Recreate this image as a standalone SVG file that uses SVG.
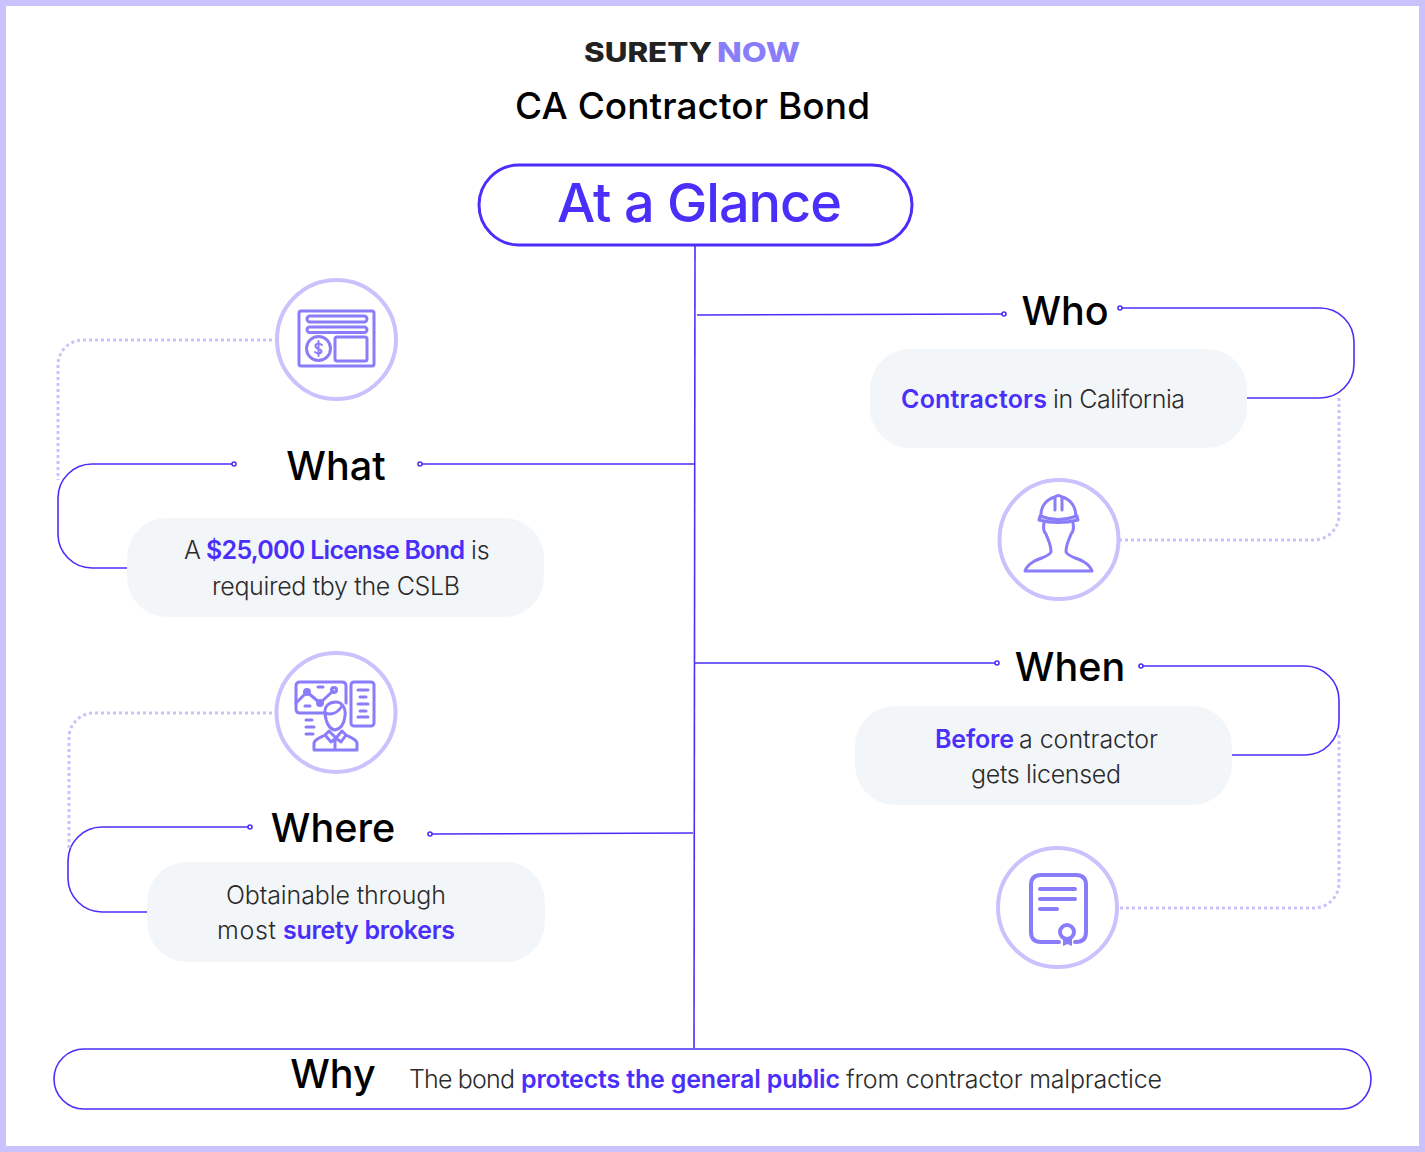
<svg xmlns="http://www.w3.org/2000/svg" width="1425" height="1152" viewBox="0 0 1425 1152">
<defs>
<style>
text{font-family:"Inter","Liberation Sans",sans-serif;fill:#000}
.h{font-size:39.500px;font-weight:500;text-anchor:middle}
.b{font-size:25px;font-weight:300;fill:#2b2b2b}
.a{font-size:25px;font-weight:600;fill:#4a2ffb}
.l{fill:none;stroke:#4a2ffb;stroke-width:1.6}
.d{fill:none;stroke:#c9c2fb;stroke-width:3;stroke-dasharray:3 3}
.dot{fill:#fff;stroke:#4a2ffb;stroke-width:1.6}
.c{fill:#fff;stroke:#c9c2fd;stroke-width:4}
.i{fill:none;stroke:#8a7dfa;stroke-width:3;stroke-linecap:round;stroke-linejoin:round}
.p{fill:#f3f6f9}
</style>
</defs>
<rect width="1425" height="1152" fill="#fff"/>
<rect x="3" y="3" width="1419" height="1146" fill="none" stroke="#c9c2fd" stroke-width="6"/>
<g id="logo">
<text x="584" y="62" textLength="128" lengthAdjust="spacingAndGlyphs" style="font-size:27px;font-weight:800;fill:#222">SURETY</text>
<text x="717" y="62" textLength="83" lengthAdjust="spacingAndGlyphs" style="font-size:27px;font-weight:800;fill:#8a7dfa">NOW</text>
</g>
<text id="title" x="515" y="119" textLength="355" style="font-size:37px;font-weight:500">CA Contractor Bond</text>
<g id="connectors">
<path class="l" d="M695 246L694 1048"/>
<path class="l" d="M697 315L1004 314M695 464H420M695 663H997M693 833L430 834"/>
<path class="l" d="M1120 308H1320A34 34 0 0 1 1354 342V364A34 34 0 0 1 1320 398H1247"/>
<path class="l" d="M1141 666H1305A34 34 0 0 1 1339 700V721A34 34 0 0 1 1305 755H1232"/>
<path class="l" d="M234 464H92A34 34 0 0 0 58 498V534A34 34 0 0 0 92 568H128"/>
<path class="l" d="M250 827H102A34 34 0 0 0 68 861V878A34 34 0 0 0 102 912H148"/>
<path class="d" d="M272 340H82A25 25 0 0 0 58 365V480"/>
<path class="d" d="M272 713H94A25 25 0 0 0 69 738V850"/>
<path class="d" d="M1339 398V515A25 25 0 0 1 1314 540H1120"/>
<path class="d" d="M1339 735V883A25 25 0 0 1 1314 908H1118"/>
<circle class="dot" cx="1004" cy="314" r="2"/><circle class="dot" cx="1120" cy="308" r="2"/>
<circle class="dot" cx="997" cy="663" r="2"/><circle class="dot" cx="1141" cy="666" r="2"/>
<circle class="dot" cx="234" cy="464" r="2"/><circle class="dot" cx="420" cy="464" r="2"/>
<circle class="dot" cx="250" cy="827" r="2"/><circle class="dot" cx="430" cy="834" r="2"/>
</g>
<g id="header">
<rect x="479" y="165" width="433" height="80" rx="40" fill="#fff" stroke="#4a2ffb" stroke-width="3"/>
<text x="557" y="222" textLength="285" style="font-size:54px;font-weight:500;fill:#4a2ffb">At a Glance</text>
</g>
<g id="who">
<text x="1065" y="325" class="h">Who</text>
<rect class="p" x="870" y="349" width="377" height="99" rx="40"/>
<text x="901" y="408" class="a" textLength="146">Contractors</text>
<text x="1053" y="408" class="b" textLength="132">in California</text>
</g>
<g id="who-icon">
<circle class="c" cx="1059" cy="539.500" r="59.500"/>
<path class="i" d="M1041 517C1040 506 1047 499 1055 497Q1058 494 1062 497C1070 499 1076 506 1076 517"/>
<path class="i" d="M1055 510V497M1062 510V497"/>
<path class="i" d="M1040 516Q1058 523 1077 516L1078 520Q1058 525 1039 520Z"/>
<path class="i" d="M1044 523C1043 528 1044 532 1046 534C1048 540 1051 544 1051 552C1049 557 1039 558 1033 562C1028 565 1026 568 1025 571H1092C1091 568 1089 565 1084 562C1078 558 1068 557 1066 552C1066 544 1069 540 1071 534C1073 532 1074 528 1073 523"/>
</g>
<g id="when">
<text x="1070" y="681" class="h">When</text>
<rect class="p" x="855" y="706" width="377" height="99" rx="40"/>
<text x="935" y="748" class="a" textLength="79">Before</text>
<text x="1019" y="748" class="b" textLength="139">a contractor</text>
<text x="971" y="783" class="b" textLength="150">gets licensed</text>
</g>
<g id="when-icon">
<circle class="c" cx="1057.500" cy="907.500" r="59.500"/>
<path class="i" style="stroke-width:4" d="M1059 942H1041Q1031 942 1031 932V885Q1031 875 1041 875H1076Q1086 875 1086 885V932Q1086 942 1076 942H1075"/>
<path class="i" style="stroke-width:4" d="M1040 889H1075M1040 899H1075M1040 909H1057"/>
<circle class="i" style="stroke-width:4" cx="1067" cy="932" r="7"/>
<path d="M1063 939H1072V946L1067.500 944L1063 946Z" fill="#8a7dfa"/>
</g>
<g id="what">
<text x="336" y="480" class="h">What</text>
<rect class="p" x="127" y="518" width="417" height="99" rx="40"/>
<text x="184" y="559" class="b">A</text>
<text x="206" y="559" class="a" textLength="259">$25,000 License Bond</text>
<text x="471" y="559" class="b">is</text>
<text x="212" y="595" class="b" textLength="248">required tby the CSLB</text>
</g>
<g id="what-icon">
<circle class="c" cx="336.500" cy="339.500" r="59.500"/>
<rect class="i" x="299" y="311" width="75" height="55" rx="2"/>
<rect class="i" x="307" y="316" width="60" height="6" rx="3"/>
<rect class="i" x="307" y="327" width="60" height="5.500" rx="2.700"/>
<circle class="i" cx="318.500" cy="348.500" r="12"/>
<rect class="i" x="335" y="337" width="32" height="24" rx="2"/>
<path class="i" style="stroke-width:2" d="M322 345Q318 342 315.500 345Q315 348 318.500 349Q322 350 321.500 352Q319 355 315 352M318.500 341V356"/>
</g>
<g id="where">
<text x="333" y="842" class="h">Where</text>
<rect class="p" x="147" y="862" width="398" height="100" rx="40"/>
<text x="226" y="904" class="b" textLength="220">Obtainable through</text>
<text x="217" y="939" class="b" textLength="59">most</text>
<text x="283" y="939" class="a" textLength="172">surety brokers</text>
</g>
<g id="where-icon">
<circle class="c" cx="336" cy="712.500" r="59.500"/>
<path class="i" d="M324 713H300Q296 713 296 709V686Q296 682 300 682H342Q346 682 346 686V703"/>
<rect class="i" x="351" y="682" width="23" height="44" rx="3"/>
<path class="i" d="M358 690H368M360 697H366M358 704H368M360 711H366M358 717H368M318 687H323M305 706H310M306 720H312M306 727H314M306 734H313"/>
<path class="i" d="M296 703L307 692L320 703L333 691"/>
<circle class="i" cx="307" cy="692" r="2.500"/><circle class="i" cx="320" cy="703" r="2.500"/><circle class="i" cx="334" cy="690" r="2.500"/>
<path class="i" d="M325 714C324 706 329 702 336 702C342 702 346 708 345 716C344 725 340 729 335 730C329 729 326 722 325 714Z"/>
<path class="i" d="M325 713C333 716 339 711 342 706"/>
<path class="i" d="M314 750V743C315 739 320 738 325 735L329 731L336 738L342 731L346 735C351 738 356 739 357 743V750ZM335 738V750M329 731L325 735L331 742L336 738L341 742L346 735"/>
</g>
<g id="why">
<rect x="54" y="1049" width="1317" height="60" rx="30" fill="#fff" stroke="#4a2ffb" stroke-width="1.600"/>
<text x="333" y="1088" class="h">Why</text>
<text x="409" y="1088" class="b" textLength="106">The bond</text>
<text x="521" y="1088" class="a" textLength="319">protects the general public</text>
<text x="846" y="1088" class="b" textLength="316">from contractor malpractice</text>
</g>
</svg>
